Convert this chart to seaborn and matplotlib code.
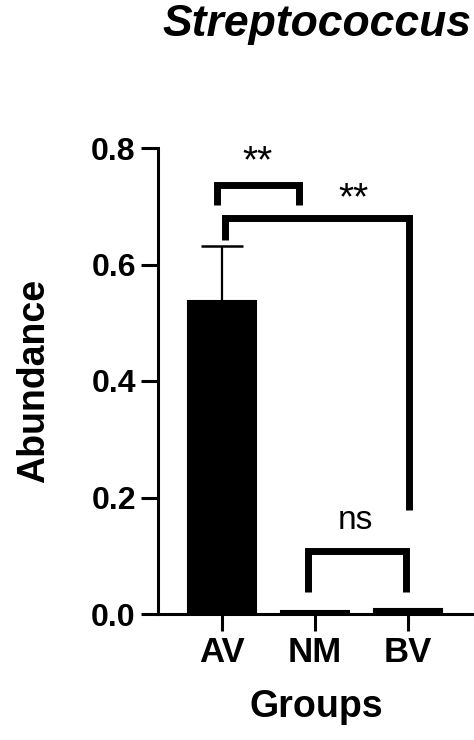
import numpy as np
import matplotlib
matplotlib.use("Agg")
import matplotlib.pyplot as plt
import seaborn as sns

sns.set_style("ticks")
plt.rcParams['font.family'] = ['Liberation Sans', 'DejaVu Sans']
for k in ['text.color', 'axes.labelcolor', 'xtick.color', 'ytick.color', 'axes.edgecolor']:
    plt.rcParams[k] = 'black'

# Data
groups = ["AV", "NM", "BV"]
means = [0.538, 0.006, 0.009]
sd_upper = [0.094, 0.0, 0.0]

# significance brackets: (x1, x2, y_top, left_leg_bottom, right_leg_bottom, label, label_x, label_y)
brackets = [
    (-0.05, 0.83, 0.737, 0.702, 0.702, "**", 0.38, 0.775),
    (0.03, 2.01, 0.680, 0.642, 0.178, "**", 1.41, 0.712),
    (0.925, 1.98, 0.108, 0.038, 0.038, "ns", 1.43, 0.160),
]

fig = plt.figure(figsize=(4.74, 7.4), dpi=100)
ax = fig.add_axes([158 / 474, 1 - 614 / 740, 1 - 158 / 474, (614 - 148) / 740])

sns.barplot(x=groups, y=means, color="black", width=0.73, errorbar=None,
            saturation=1, ax=ax)
for p in ax.patches:
    p.set_edgecolor("black")
    p.set_linewidth(1.5)

# upper error bar only
ax.errorbar([0], [means[0]], yerr=[[0], [sd_upper[0]]], fmt="none",
            ecolor="black", elinewidth=1.6, capsize=15, capthick=1.8, zorder=3)

for x1, x2, yt, yl, yr, lab, lx, ly in brackets:
    ax.plot([x1, x1, x2, x2], [yl, yt, yt, yr], color="black", lw=5,
            solid_joinstyle="miter", solid_capstyle="butt", clip_on=False)
    fs = 28 if lab == "**" else 24
    ax.text(lx, ly, lab, ha="center", va="center", fontsize=fs, clip_on=False)

ax.set_xlim(-0.69, 2.71)
ax.set_ylim(0, 0.8)
ax.set_yticks([0.0, 0.2, 0.4, 0.6, 0.8])
ax.set_yticklabels(["0.0", "0.2", "0.4", "0.6", "0.8"])
sns.despine(ax=ax)
for s in ["left", "bottom"]:
    ax.spines[s].set_linewidth(2.2)
ax.tick_params(axis="both", width=2.2, length=12, pad=4)
ax.tick_params(axis="y", labelsize=23)
ax.tick_params(axis="x", labelsize=25)
for lbl in ax.get_xticklabels() + ax.get_yticklabels():
    lbl.set_fontweight("bold")

ax.set_xlabel("Groups", fontsize=27, fontweight="bold", labelpad=14)
ax.set_ylabel("Abundance", fontsize=27, fontweight="bold", labelpad=28)

fig.text(471 / 474, 1 - 36 / 740, "Streptococcus", fontsize=32,
         fontweight="bold", fontstyle="italic", ha="right", va="baseline")

fig.savefig("out.png", dpi=100)
